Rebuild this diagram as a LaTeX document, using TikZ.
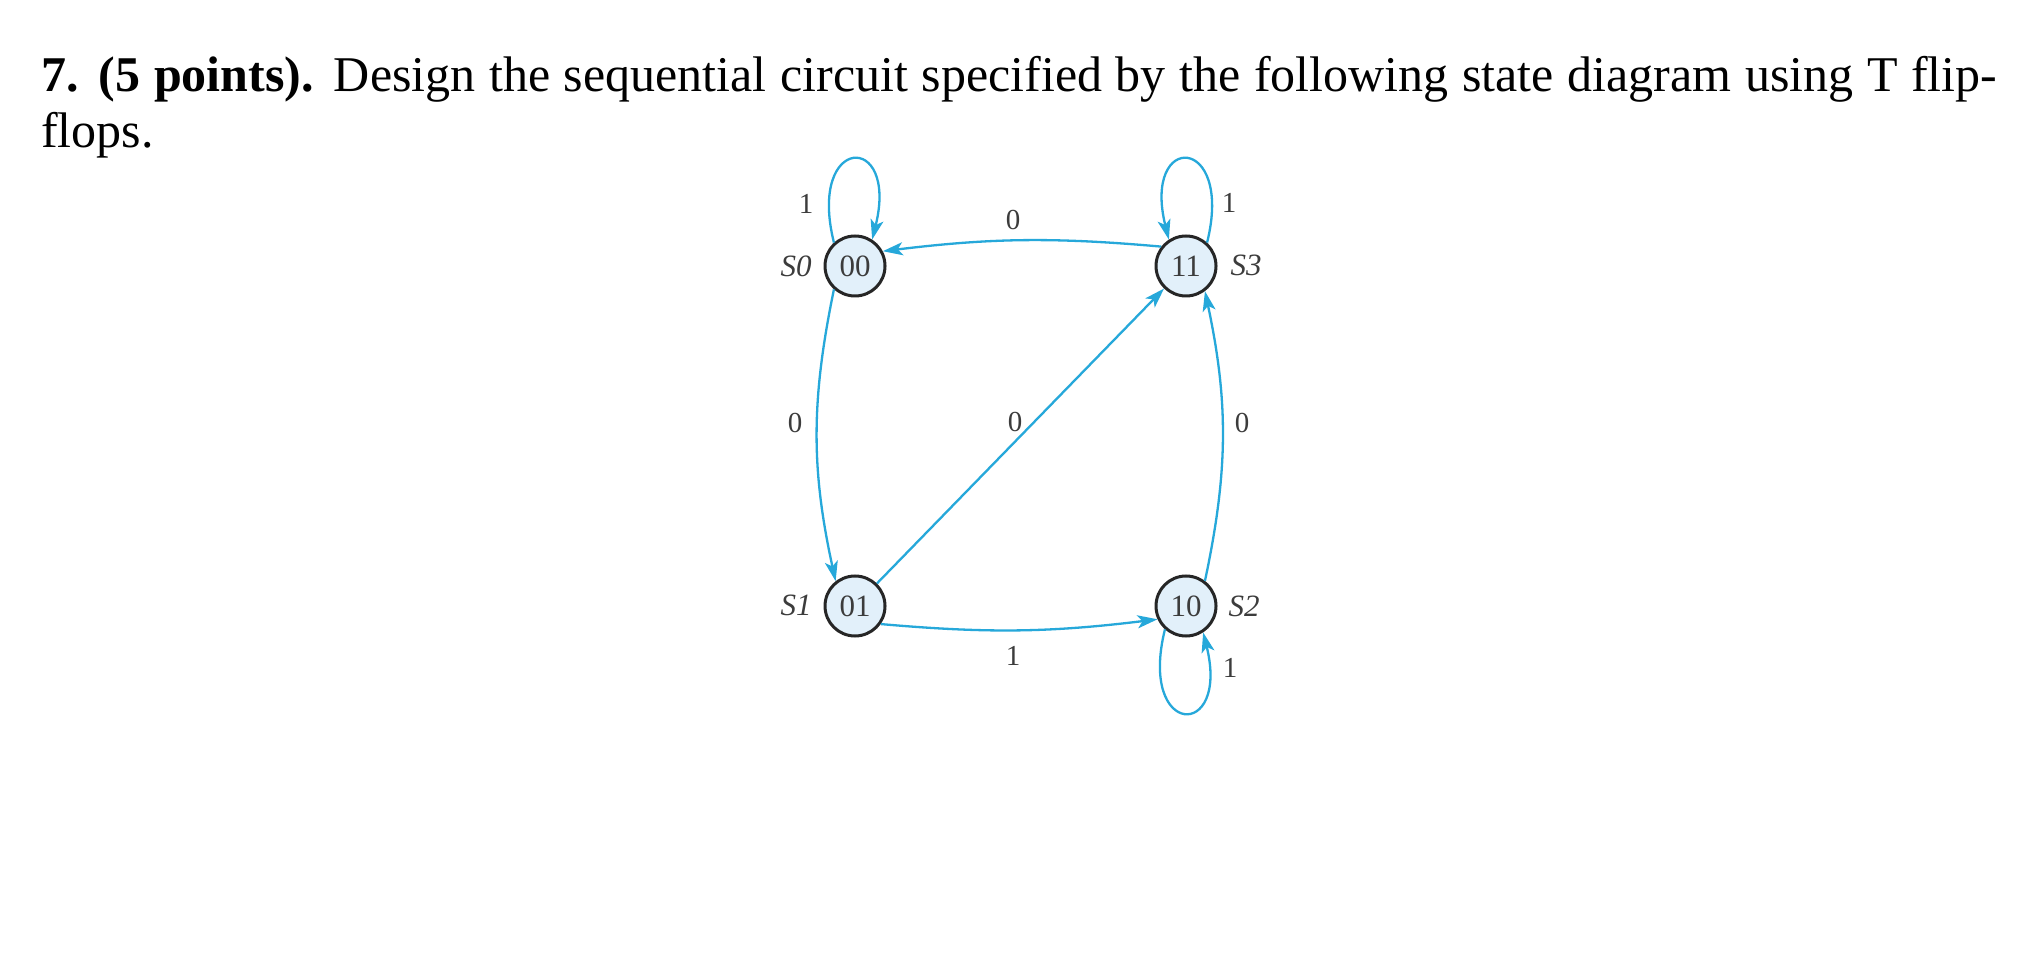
\documentclass[tikz,border=0pt]{standalone}
\usepackage{fontspec}
\setmainfont{Liberation Serif}
\usetikzlibrary{arrows.meta}
\definecolor{edgeblue}{RGB}{38,168,218}
\definecolor{statefill}{RGB}{226,240,250}
\definecolor{labelgray}{RGB}{60,60,60}
\begin{document}
\begin{tikzpicture}[x=1pt,y=1pt,
  state/.style={circle,draw=black!85,line width=3pt,fill=statefill,minimum size=60pt,inner sep=0pt,
    font=\fontsize{31}{33}\selectfont,text=labelgray},
  sname/.style={font=\fontsize{31}{33}\selectfont\itshape,text=labelgray,inner sep=0pt},
  elabel/.style={font=\fontsize{29}{31}\selectfont,text=labelgray,inner sep=0pt},
  edge/.style={draw=edgeblue,line width=2.3pt,-{Stealth[length=20pt,width=13pt,inset=5pt]}},
  titletext/.style={anchor=base west,inner sep=0pt,font=\fontsize{50}{56}\selectfont}]
\useasboundingbox[fill=white] (0,0) rectangle (2028,967);
% title
\node[titletext] (l1) at (41,875) {\hbox to 1956pt{\textbf{7. (5 points).} Design the sequential circuit specified by the following state diagram using T flip-}};
\node[titletext] (l2) at (41,819) {flops.};
% states
\node[state] (S0) at (855,701) {00};
\node[state] (S3) at (1186,701) {11};
\node[state] (S1) at (855,361) {01};
\node[state] (S2) at (1186,361) {10};
% names
\node[sname] (n0) at (796,701) {S0};
\node[sname] (n3) at (1246,702) {S3};
\node[sname] (n1) at (796,362) {S1};
\node[sname] (n2) at (1244,361) {S2};
% self loops
\draw[edge] (S0.132) .. controls +(104:112) and +(76:112) .. (S0.57);
\draw[edge] (S3.48) .. controls +(76:112) and +(104:112) .. (S3.123);
\draw[edge] (S2.228) .. controls +(256:112) and +(284:112) .. (S2.303);
% transitions
\draw[edge] (S3.142) to[bend right=6] (S0.28);
\draw[edge] (S0.228) to[bend right=12] (S1.128);
\draw[edge] (S1.325) to[bend right=6] (S2.205);
\draw[edge] (S2.53) to[bend right=12] (S3.307);
\draw[edge] (S1) -- (S3);
% labels
\node[elabel] (a) at (806,763) {1};
\node[elabel] (b) at (1229,764) {1};
\node[elabel] (c) at (1230,299) {1};
\node[elabel] (d) at (1013,747) {0};
\node[elabel] (e) at (795,544) {0};
\node[elabel] (f) at (1015,545) {0};
\node[elabel] (g) at (1242,544) {0};
\node[elabel] (h) at (1013,311) {1};
\end{tikzpicture}
\end{document}
